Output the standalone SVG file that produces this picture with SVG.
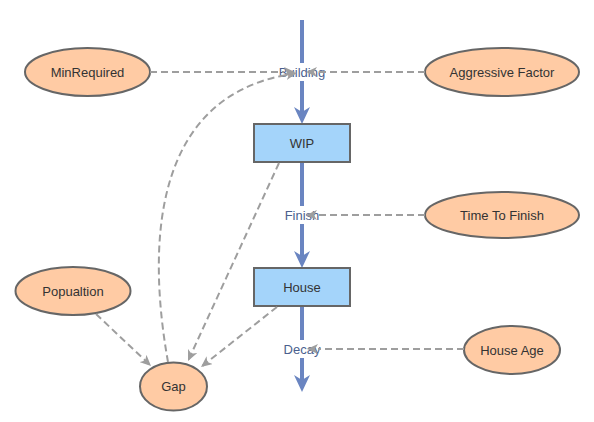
<svg xmlns="http://www.w3.org/2000/svg" width="594" height="422" viewBox="0 0 594 422">
<defs>
<style>
.aux ellipse{fill:#ffcba4;stroke:#666;stroke-width:2}
.stock rect{fill:#a4d4fa;stroke:#666;stroke-width:2}
.nt{font-family:"Liberation Sans",Arial,sans-serif;font-size:13px;fill:#333;text-anchor:middle}
.flow{stroke:#6a85c1;stroke-width:4;fill:none}
.fl{font-family:"Liberation Sans",Arial,sans-serif;font-size:13px;fill:#4b5f8e;text-anchor:middle}
.lbg{fill:#fff}
.link{stroke:#9e9e9e;stroke-width:2;stroke-dasharray:7 4;fill:none}
</style>
<marker id="fa" markerUnits="userSpaceOnUse" markerWidth="17" markerHeight="16" viewBox="0 0 17 16" refX="7" refY="8" orient="auto">
<path d="M0,0 L17,8 L0,16 L5,8 z" fill="#6a85c1"/>
</marker>
<marker id="ga" markerUnits="userSpaceOnUse" markerWidth="11" markerHeight="10" viewBox="0 0 11 10" refX="11" refY="5" orient="auto">
<path d="M0,0 L11,5 L0,10 L3,5 z" fill="#9e9e9e"/>
</marker>
<marker id="gl" markerUnits="userSpaceOnUse" markerWidth="11" markerHeight="10" viewBox="0 0 11 10" refX="0" refY="5" orient="auto">
<path d="M0,0 L11,5 L0,10 L3,5 z" fill="#9e9e9e"/>
</marker>
</defs>
<rect width="594" height="422" fill="#fff"/>
<g id="flows">
<path class="flow" d="M302,20 L302,114" marker-end="url(#fa)"/>
<path class="flow" d="M302,163 L302,258" marker-end="url(#fa)"/>
<path class="flow" d="M302,307 L302,382" marker-end="url(#fa)"/>
</g>
<g id="flow-labels">
<g id="Building"><rect class="lbg" x="278" y="63" width="48" height="18"/><text class="fl" x="302" y="76.5">Building</text></g>
<g id="Finish"><rect class="lbg" x="284" y="206" width="36" height="18"/><text class="fl" x="302" y="219.5">Finish</text></g>
<g id="Decay"><rect class="lbg" x="283" y="340" width="38" height="18"/><text class="fl" x="302" y="353.5">Decay</text></g>
</g>
<g id="MinRequired" class="aux"><ellipse cx="87.5" cy="72" rx="62.5" ry="24"/><text class="nt" x="87.5" y="76.5">MinRequired</text></g>
<g id="AggressiveFactor" class="aux"><ellipse cx="502" cy="72" rx="77" ry="24"/><text class="nt" x="502" y="76.5">Aggressive Factor</text></g>
<g id="TimeToFinish" class="aux"><ellipse cx="502" cy="215" rx="77" ry="23"/><text class="nt" x="502" y="219.5">Time To Finish</text></g>
<g id="Popualtion" class="aux"><ellipse cx="73" cy="291" rx="57.5" ry="24"/><text class="nt" x="73" y="295.5">Popualtion</text></g>
<g id="HouseAge" class="aux"><ellipse cx="512" cy="350" rx="48" ry="24"/><text class="nt" x="512" y="354.5">House Age</text></g>
<g id="Gap" class="aux"><ellipse cx="173.5" cy="386.5" rx="33.5" ry="24"/><text class="nt" x="173.5" y="391">Gap</text></g>
<g id="WIP" class="stock"><rect x="254" y="124" width="96" height="38"/><text class="nt" x="302" y="147.5">WIP</text></g>
<g id="House" class="stock"><rect x="254" y="268" width="96" height="38"/><text class="nt" x="302" y="291.5">House</text></g>
<g id="connectors">
<path class="link" d="M150,72 L284,72" marker-end="url(#gl)"/>
<path class="link" d="M425,72 L317,72" marker-end="url(#gl)"/>
<path class="link" d="M168,362 C148,250 150,100 286,75" marker-end="url(#gl)"/>
<path class="link" d="M425,215 L317,215" marker-end="url(#gl)"/>
<path class="link" d="M464,349 L318,349" marker-end="url(#gl)"/>
<path class="link" d="M96,314 L151,366" marker-end="url(#ga)"/>
<path class="link" d="M279,163 L188,361" marker-end="url(#ga)"/>
<path class="link" d="M277,307 L201,367" marker-end="url(#ga)"/>
</g>
</svg>
